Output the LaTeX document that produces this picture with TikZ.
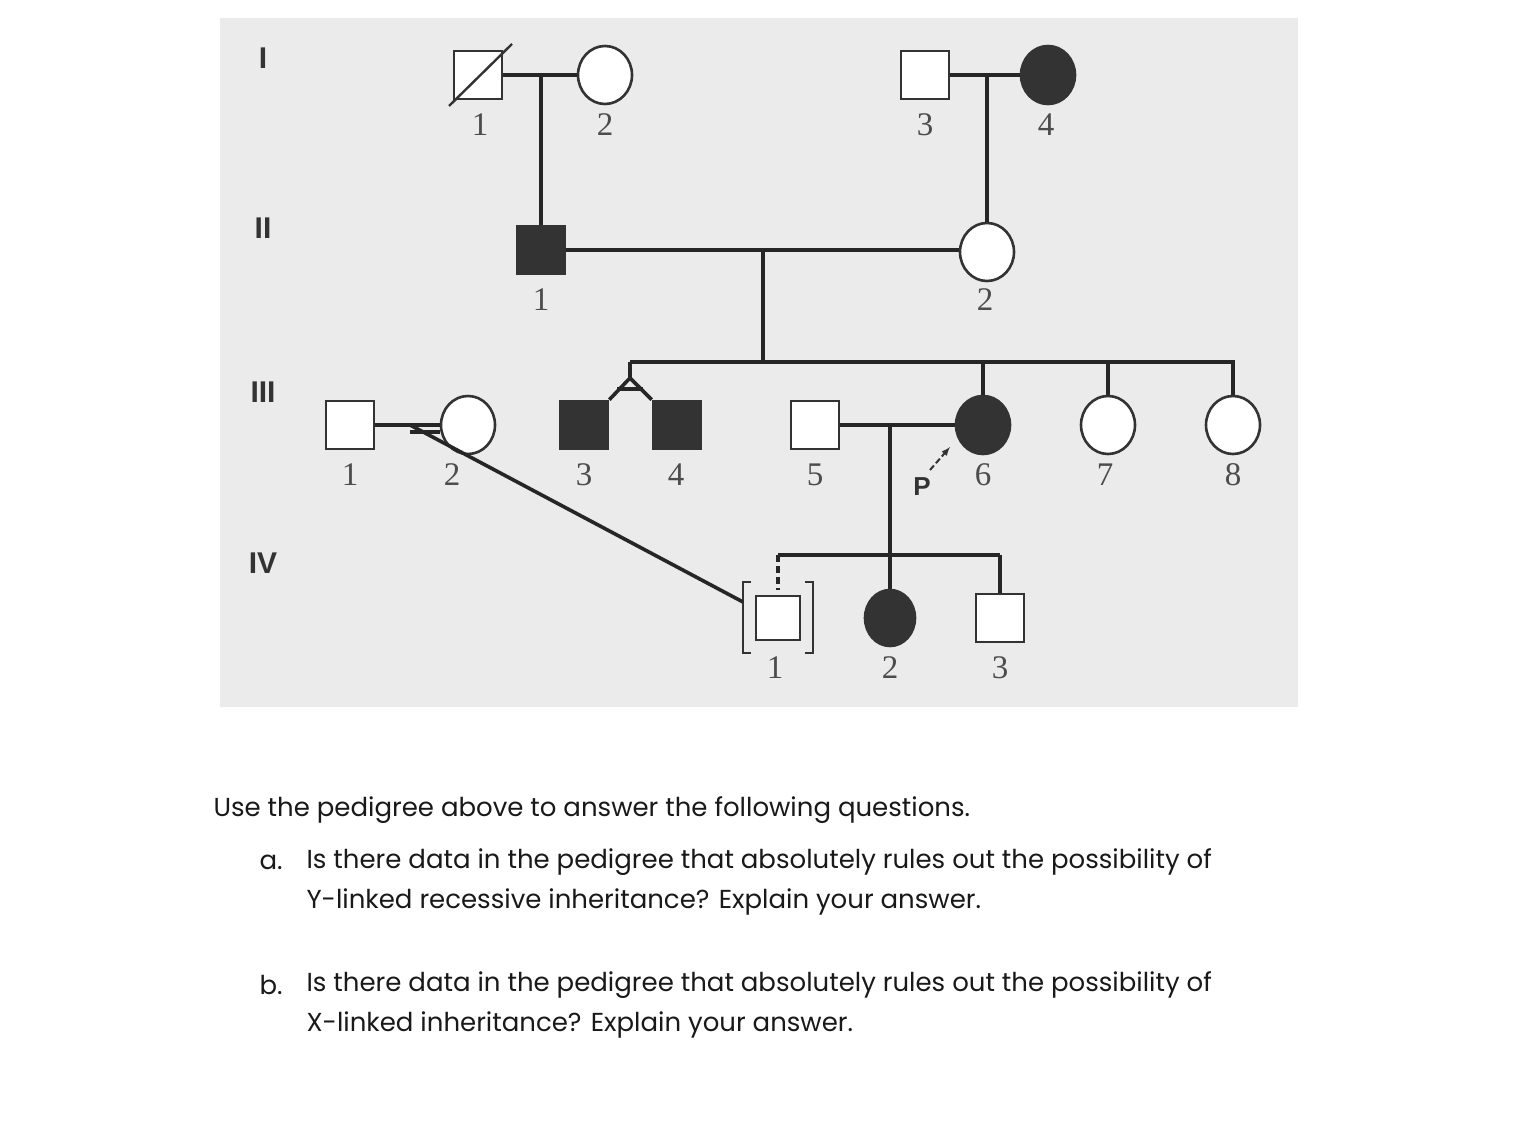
\documentclass[tikz,border=0pt]{standalone}
\usepackage{fontspec}
\setmainfont{Liberation Serif}
\newfontfamily\qf{Poppins}
\newfontfamily\rf{Liberation Sans}
\usetikzlibrary{shapes.geometric}
\begin{document}
\begin{tikzpicture}[x=1pt,y=-1pt,
  ln/.style={line width=3.6pt,draw=black!85},
  sq/.style={draw=black!80,line width=2.6pt,fill=white,minimum size=48pt,inner sep=0pt,rectangle},
  sqf/.style={sq,fill=black!80},
  ci/.style={draw=black!80,line width=2.6pt,fill=white,ellipse,minimum width=54pt,minimum height=58pt,inner sep=0pt},
  cif/.style={ci,fill=black!80},
  num/.style={font=\fontsize{33}{33}\selectfont,text=black!70},
  gen/.style={font=\rf\bfseries\fontsize{30}{30}\selectfont,text=black!80},
  q/.style={font=\qf\fontsize{26}{40}\selectfont,anchor=west,text=black!90}]
\useasboundingbox (0,0) rectangle (1530,1142);
\fill[white] (0,0) rectangle (1530,1142);
\fill[black!8] (220,18) rectangle (1298,707);
% generations
\node[gen] (g1) at (263,58) {I};
\node[gen] (g2) at (263,228) {II};
\node[gen] (g3) at (263,392) {III};
\node[gen] (g4) at (263,563) {IV};
% Gen I
\node[sq] (i1) at (478,75) {};
\node[ci] (i2) at (605,75) {};
\node[sq] (i3) at (925,75) {};
\node[cif] (i4) at (1048,75) {};
\draw[ln] (i1.east) -- (i2.west);
\draw[ln] (i3.east) -- (i4.west);
\draw[line width=2.4pt,black!80] (449,106) -- (512,44);
\node[num] (li1) at (480,125) {1};
\node[num] (li2) at (605,125) {2};
\node[num] (li3) at (925,125) {3};
\node[num] (li4) at (1046,125) {4};
% Gen II
\node[sqf] (ii1) at (541,250) {};
\node[ci] (ii2) at (987,252) {};
\coordinate (d1) at (541,75);
\coordinate (d2) at (987,75);
\draw[ln] (d1) -- (ii1.north);
\draw[ln] (d2) -- (ii2.north);
\draw[ln] (ii1.east) -- (ii2.west|-ii1.east);
\node[num] (lii1) at (541,300) {1};
\node[num] (lii2) at (985,300) {2};
% Gen III
\node[sq] (iii1) at (350,425) {};
\node[ci] (iii2) at (468,425) {};
\node[sqf] (iii3) at (584,425) {};
\node[sqf] (iii4) at (677,425) {};
\node[sq] (iii5) at (815,425) {};
\node[cif] (iii6) at (983,425) {};
\node[ci] (iii7) at (1108,425) {};
\node[ci] (iii8) at (1233,425) {};
\coordinate (m2) at (763,250);
\coordinate (s3) at (763,362);
\coordinate (sl) at (630,362);
\coordinate (sr) at (1235,362);
\draw[ln] (m2) -- (s3);
\draw[ln] (sl) -- (sr);
\coordinate (tw) at (630,378);
\draw[ln] (sl) -- (tw) -- (iii3.north east);
\draw[ln] (tw) -- (iii4.north west);
\draw[ln] (617,389) -- (643,389);
\draw[ln] (983,362) -- (iii6.north);
\draw[ln] (1108,362) -- (iii7.north);
\draw[ln] (1233,362) -- (iii8.north);
\draw[ln] (iii1.east) -- (iii2.west);
\draw[ln] (410,432) -- (iii2.west|-410,432);
\draw[ln] (iii5.east) -- (iii6.west);
\foreach \n/\x/\t in {a/350/1,b/452/2,c/584/3,d/676/4,e/815/5,f/983/6,g/1105/7,h/1233/8}
  \node[num] (liii\n) at (\x,475) {\t};
% P arrow
\node[font=\rf\bfseries\fontsize{26}{26}\selectfont,text=black!80] (p) at (922,487) {P};
\draw[-latex,line width=2pt,black!80,dash pattern=on 6pt off 3pt] (930,470) -- (950,447);
% Gen IV
\coordinate (m3) at (890,425);
\coordinate (s4) at (890,555);
\coordinate (s4l) at (778,555);
\coordinate (s4r) at (1000,555);
\node[sq,minimum size=44pt] (iv1) at (778,618) {};
\node[cif,minimum width=50pt,minimum height=56pt] (iv2) at (890,618) {};
\node[sq] (iv3) at (1000,618) {};
\draw[ln] (m3) -- (iv2.north);
\draw[ln] (s4l) -- (s4r);
\draw[ln] (s4r) -- (iv3.north);
\draw[ln,dash pattern=on 7pt off 4pt] (s4l) -- (778,590);
\draw[line width=2.6pt,black!80] (751,582) -- (743,582) -- (743,653) -- (751,653);
\draw[line width=2.6pt,black!80] (805,582) -- (813,582) -- (813,653) -- (805,653);
\coordinate (m1) at (410,425);
\draw[ln] (m1) -- (743,602);
\node[num] (liv1) at (775,668) {1};
\node[num] (liv2) at (890,668) {2};
\node[num] (liv3) at (1000,668) {3};
% questions
\node[q] (t0) at (210,810) {Use the pedigree above to answer the following questions.};
\node[q] (ta) at (256,862) {a.};
\node[q,align=left] (tat) at (303,882) {Is there data in the pedigree that absolutely rules out the possibility of\\Y-linked recessive inheritance? Explain your answer.};
\node[q] (tb) at (256,985) {b.};
\node[q,align=left] (tbt) at (303,1005) {Is there data in the pedigree that absolutely rules out the possibility of\\X-linked inheritance? Explain your answer.};
\end{tikzpicture}
\end{document}
